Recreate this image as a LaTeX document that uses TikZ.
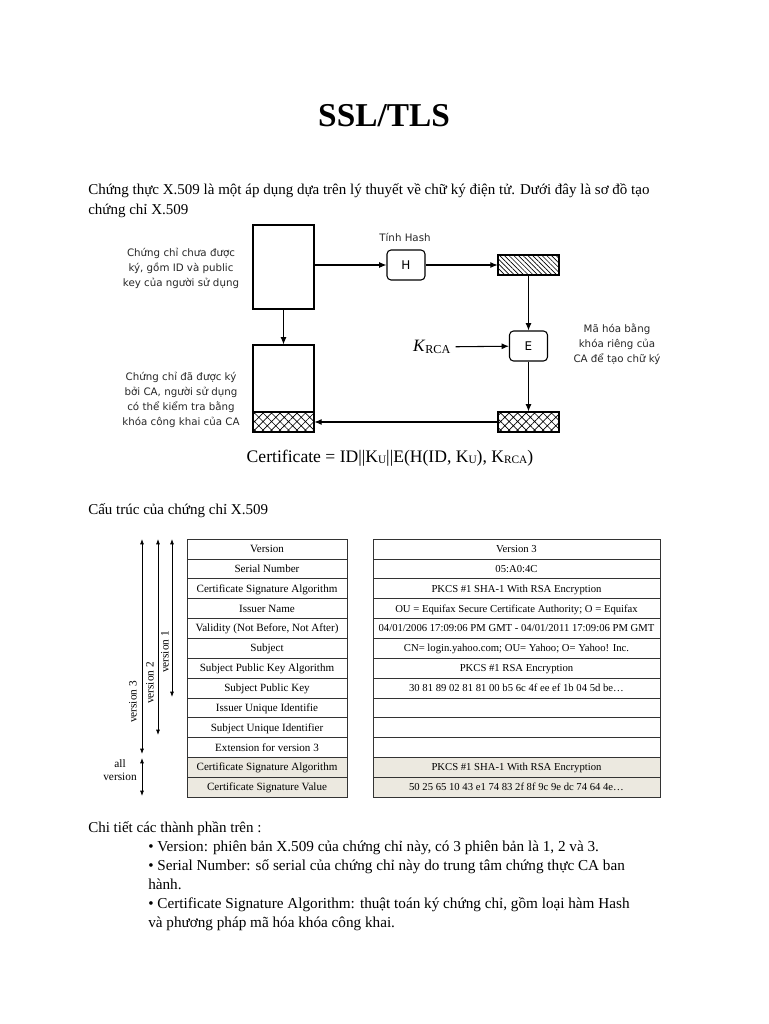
\documentclass[tikz,border=0pt]{standalone}
\usepackage{fontspec}
\setmainfont{Liberation Serif}
\newfontfamily\labelfont{DejaVu Sans}
\usetikzlibrary{arrows.meta,patterns.meta,positioning}
\definecolor{rowshade}{HTML}{ECE9E0}
\definecolor{labelgray}{HTML}{262626}
\newcommand{\lowsub}[1]{{\fontsize{8.5}{9}\selectfont\raisebox{-1pt}{#1}}}

\tikzset{
  blk/.style={draw,thick,minimum width=45.75pt,inner sep=0pt},
  fn/.style={draw,thick,rounded corners=3pt,minimum width=28.5pt,minimum height=22.5pt,font=\labelfont\fontsize{9}{10}\selectfont},
  lbl/.style={font=\labelfont\fontsize{7.7}{11.25}\selectfont,align=center,text=labelgray},
  flow/.style={-{Latex[length=5.5pt,width=4.5pt]},thick},
  rowl/.style={draw=black!80,minimum width=120pt,minimum height=14.9pt,inner sep=0pt,
    text height=7pt,text depth=1.6pt,font=\fontsize{8.3}{9}\selectfont},
  rowr/.style={rowl,minimum width=215.25pt,font=\fontsize{8}{9}\selectfont},
  verspan/.style={{Latex[length=4pt,width=3pt]}-{Latex[length=4pt,width=3pt]},semithick},
  verlbl/.style={rotate=90,font=\fontsize{8.5}{9}\selectfont,inner sep=0pt},
  para/.style={anchor=base west,align=left,font=\fontsize{11.25}{14.6}\selectfont,inner sep=0pt}
}

\begin{document}
\begin{tikzpicture}[x=0.75pt,y=-0.75pt]
\useasboundingbox (0,0) rectangle (768,1024);

% heading and intro (base = last line)
\node[font=\bfseries\fontsize{25}{30}\selectfont,anchor=base] (title) at (384,127) {SSL/TLS};
\node[para] (intro) at (88,214) {Chứng thực X.509 là một áp dụng dựa trên lý thuyết về chữ ký điện tử. Dưới đây là sơ đồ tạo\\chứng chỉ X.509};

% signing scheme
\node[blk,minimum height=63pt] (plain) at (283.5,267) {};
\node[blk,minimum height=65.25pt] (signed) at (283.5,388.5) {};
\node[blk,minimum height=15pt,pattern={Hatch[angle=45,distance=4.5pt,line width=0.5pt]}] (sigpart) at (283.5,422) {};
\node[fn] (hash) at (406,265) {H};
\node[blk,minimum height=15pt,pattern={Lines[angle=-45,distance=2.5pt,line width=0.5pt]}] (digest) at (528.5,265) {};
\node[fn] (enc) at (528.5,346) {E};
\node[blk,minimum height=15pt,pattern={Hatch[angle=45,distance=4.5pt,line width=0.5pt]}] (sig) at (528.5,422) {};
\node[font=\fontsize{13}{15}\selectfont] (key) at (432,347) {\textit{K}\textsubscript{RCA}};

\draw[flow] (plain.east |- hash.west) -- (hash.west);
\draw[flow] (hash) -- (digest);
\draw[flow] (plain) -- (signed);
\draw[flow] (digest) -- (enc);
\draw[flow] (key) -- (enc);
\draw[flow] (enc) -- (sig);
\draw[flow] (sig) -- (sigpart);

\node[lbl] (plainlbl) at (181,268) {Chứng chỉ chưa được\\ký, gồm ID và public\\key của người sử dụng};
\node[lbl] (signedlbl) at (181,400) {Chứng chỉ đã được ký\\bởi CA, người sử dụng\\có thể kiểm tra bằng\\khóa công khai của CA};
\node[lbl] (hashlbl) at (405,237) {Tính Hash};
\node[lbl] (enclbl) at (617,344) {Mã hóa bằng\\khóa riêng của\\CA để tạo chữ ký};
\node[font=\fontsize{13.2}{16}\selectfont] (formula) at (390,458) {Certificate = ID||K\lowsub{U}||E(H(ID, K\lowsub{U}), K\lowsub{RCA})};

% certificate structure
\node[para] (tblcap) at (88,514) {Cấu trúc của chứng chỉ X.509};
\foreach \lt/\rt [count=\i] in {Version/Version 3, Serial Number/05:A0:4C,
  Certificate Signature Algorithm/PKCS \#1 SHA-1 With RSA Encryption,
  Issuer Name/OU = Equifax Secure Certificate Authority; O = Equifax,
  {Validity (Not Before, Not After)}/{04/01/2006 17:09:06 PM GMT - 04/01/2011 17:09:06 PM GMT},
  Subject/CN= login.yahoo.com; OU= Yahoo; O= Yahoo! Inc.,
  Subject Public Key Algorithm/PKCS \#1 RSA Encryption,
  Subject Public Key/30 81 89 02 81 81 00 b5 6c 4f ee ef 1b 04 5d be…,
  Issuer Unique Identifie/{}, Subject Unique Identifier/{}, Extension for version 3/{}} {
  \node[rowl] (l\i) at (267,{539+19.85*(\i-0.5)}) {\lt};
  \node[rowr] (r\i) at (516.5,{539+19.85*(\i-0.5)}) {\rt};
}
\foreach \lt/\rt [count=\i from 12] in {Certificate Signature Algorithm/PKCS \#1 SHA-1 With RSA Encryption,
  Certificate Signature Value/50 25 65 10 43 e1 74 83 2f 8f 9c 9e dc 74 64 4e…} {
  \node[rowl,fill=rowshade] (l\i) at (267,{539+19.85*(\i-0.5)}) {\lt};
  \node[rowr,fill=rowshade] (r\i) at (516.5,{539+19.85*(\i-0.5)}) {\rt};
}

% version ranges
\coordinate (v3top) at (142,539); \coordinate (v3bot) at (142,754);
\coordinate (v2top) at (158,539); \coordinate (v2bot) at (158,735);
\coordinate (v1top) at (172,539); \coordinate (v1bot) at (172,697);
\coordinate (alltop) at (142,758); \coordinate (allbot) at (142,796);
\draw[verspan] (v3top) -- (v3bot);
\draw[verspan] (v2top) -- (v2bot);
\draw[verspan] (v1top) -- (v1bot);
\draw[verspan] (alltop) -- (allbot);
\node[verlbl] (v3lbl) at (133,702) {version 3};
\node[verlbl] (v2lbl) at (150,683) {version 2};
\node[verlbl] (v1lbl) at (165,652) {version 1};
\node[font=\fontsize{8.5}{10}\selectfont,align=center] (alllbl) at (120,770) {all\\version};

% details (base = last line)
\node[para] (detail) at (88,832) {Chi tiết các thành phần trên :};
\node[para,font=\fontsize{11.4}{14.25}\selectfont] (items) at (148,927) {• Version: phiên bản X.509 của chứng chỉ này, có 3 phiên bản là 1, 2 và 3.\\
• Serial Number: số serial của chứng chỉ này do trung tâm chứng thực CA ban\\hành.\\
• Certificate Signature Algorithm: thuật toán ký chứng chỉ, gồm loại hàm Hash\\và phương pháp mã hóa khóa công khai.};
\end{tikzpicture}
\end{document}
